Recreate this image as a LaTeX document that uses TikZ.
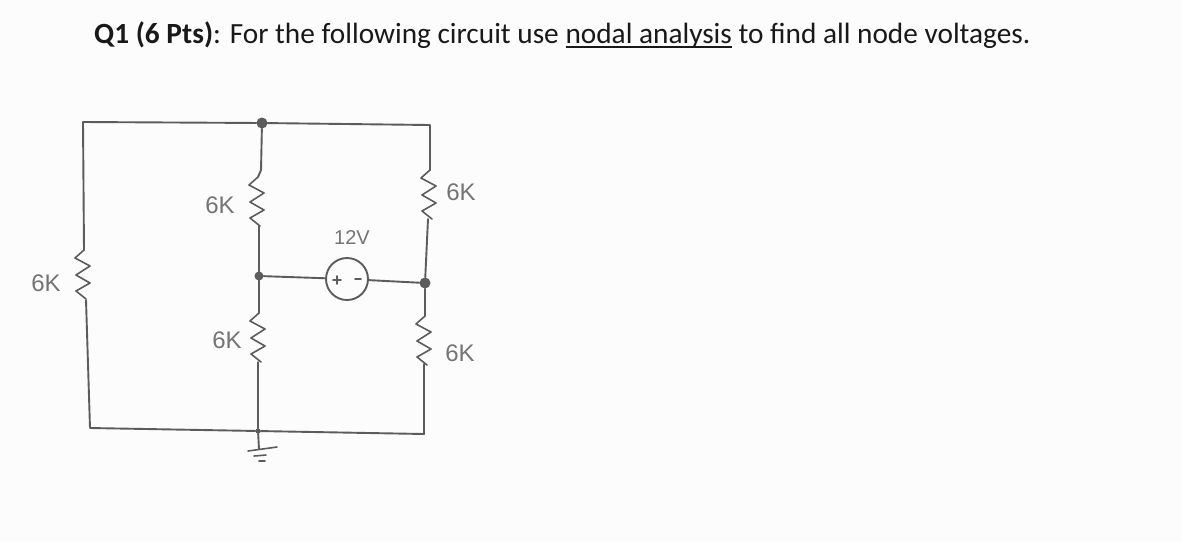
\documentclass[tikz,border=0pt]{standalone}
\usepackage{fontspec}
\setmainfont{Carlito}
\newfontfamily\handfont{Liberation Sans}
\newsavebox{\ulbox}
\newcommand{\thickul}[1]{\sbox{\ulbox}{#1}\rlap{\rule[-4.5pt]{\wd\ulbox}{1.8pt}}\usebox{\ulbox}}
\tikzset{
  x=1pt,y=-1pt,
  wire/.style={draw=wirecol,line width=1.9pt,line cap=round,line join=round},
  thin wire/.style={draw=wirecol,line width=1.6pt,line cap=round,line join=round},
  junction/.style={circle,fill=wirecol,inner sep=0pt,minimum size=#1},
  hand/.style={text=wirecol!85,inner sep=0pt,font=\handfont\fontsize{24}{26}\selectfont},
  pics/zz/.style={code={
    \draw[thin wire] (0,0) -- (-9,8) -- (6,16) -- (-8,25) -- (6,33) -- (-8,41) -- (2,49);
  }}
}
\definecolor{wirecol}{gray}{0.36}
\begin{document}
\begin{tikzpicture}
\useasboundingbox (0,0) rectangle (1182,542);
\fill[white!99!black] (0,0) rectangle (1182,542);
\node[anchor=base west,inner sep=0pt,font=\fontsize{29.3}{34}\selectfont,text=black!90] (title) at (94,43)
  {\textbf{Q1 (6 Pts)}: For the following circuit use \thickul{nodal analysis} to find all node voltages.};
% corners and junctions
\coordinate (tl) at (83,122);
\coordinate (tr) at (430,125);
\coordinate (bl) at (90,428);
\coordinate (br) at (424,434);
\node[junction=11pt] (top) at (262,123) {};
\node[junction=9pt] (ml) at (259,276) {};
\node[junction=11pt] (mr) at (425,283) {};
\node[junction=5pt] (bot) at (258,431) {};
% resistor ends
\coordinate (r1a) at (84,250); \coordinate (r1b) at (86,300);
\coordinate (r2k) at (261,170);
\coordinate (r2a) at (258,177); \coordinate (r2b) at (259,226);
\coordinate (r3a) at (259,313); \coordinate (r3b) at (258,362);
\coordinate (r4a) at (430,170); \coordinate (r4b) at (428,219);
\coordinate (r5a) at (425,316); \coordinate (r5b) at (424,364);
% wires
\draw[wire] (r1a) -- (tl) -- (top) -- (tr) -- (r4a);
\draw[wire] (r1b) -- (bl) -- (bot) -- (br) -- (r5b);
\draw[wire] (top) -- (r2k) -- (r2a);
\draw[wire] (r2b) -- (ml) -- (r3a);
\draw[wire] (r3b) -- (bot);
\draw[wire] (r4b) -- (mr) -- (r5a);
% resistors
\pic at (r1a) {zz};
\pic at (r2a) {zz};
\pic at (r3a) {zz};
\pic at (r4a) {zz};
\pic at (r5a) {zz};
% source
\node[circle,draw=wirecol,line width=1.9pt,minimum size=42pt,inner sep=0pt] (src) at (347,279) {};
\draw[wire] (ml) -- (src);
\draw[wire] (src) -- (mr);
\draw[thin wire] (333,280) -- (341,280) (337,276) -- (337,284);
\draw[thin wire] (355,279) -- (361,279);
% ground
\coordinate (g0) at (259,449);
\coordinate (g1a) at (248,451); \coordinate (g1b) at (277,447);
\coordinate (g2a) at (254,456); \coordinate (g2b) at (266,455);
\coordinate (g3a) at (259,461); \coordinate (g3b) at (265,461);
\draw[wire] (bot) -- (g0);
\draw[thin wire] (g1a) -- (g1b);
\draw[thin wire] (g2a) -- (g2b);
\draw[thin wire] (g3a) -- (g3b);
% labels
\node[hand] (l1) at (46,283) {6K};
\node[hand] (l2) at (220,205) {6K};
\node[hand] (l3) at (227,340) {6K};
\node[hand] (l4) at (461,192) {6K};
\node[hand] (l5) at (460,353) {6K};
\node[hand,font=\handfont\fontsize{20}{22}\selectfont] (l6) at (352,238) {12V};
\end{tikzpicture}
\end{document}
